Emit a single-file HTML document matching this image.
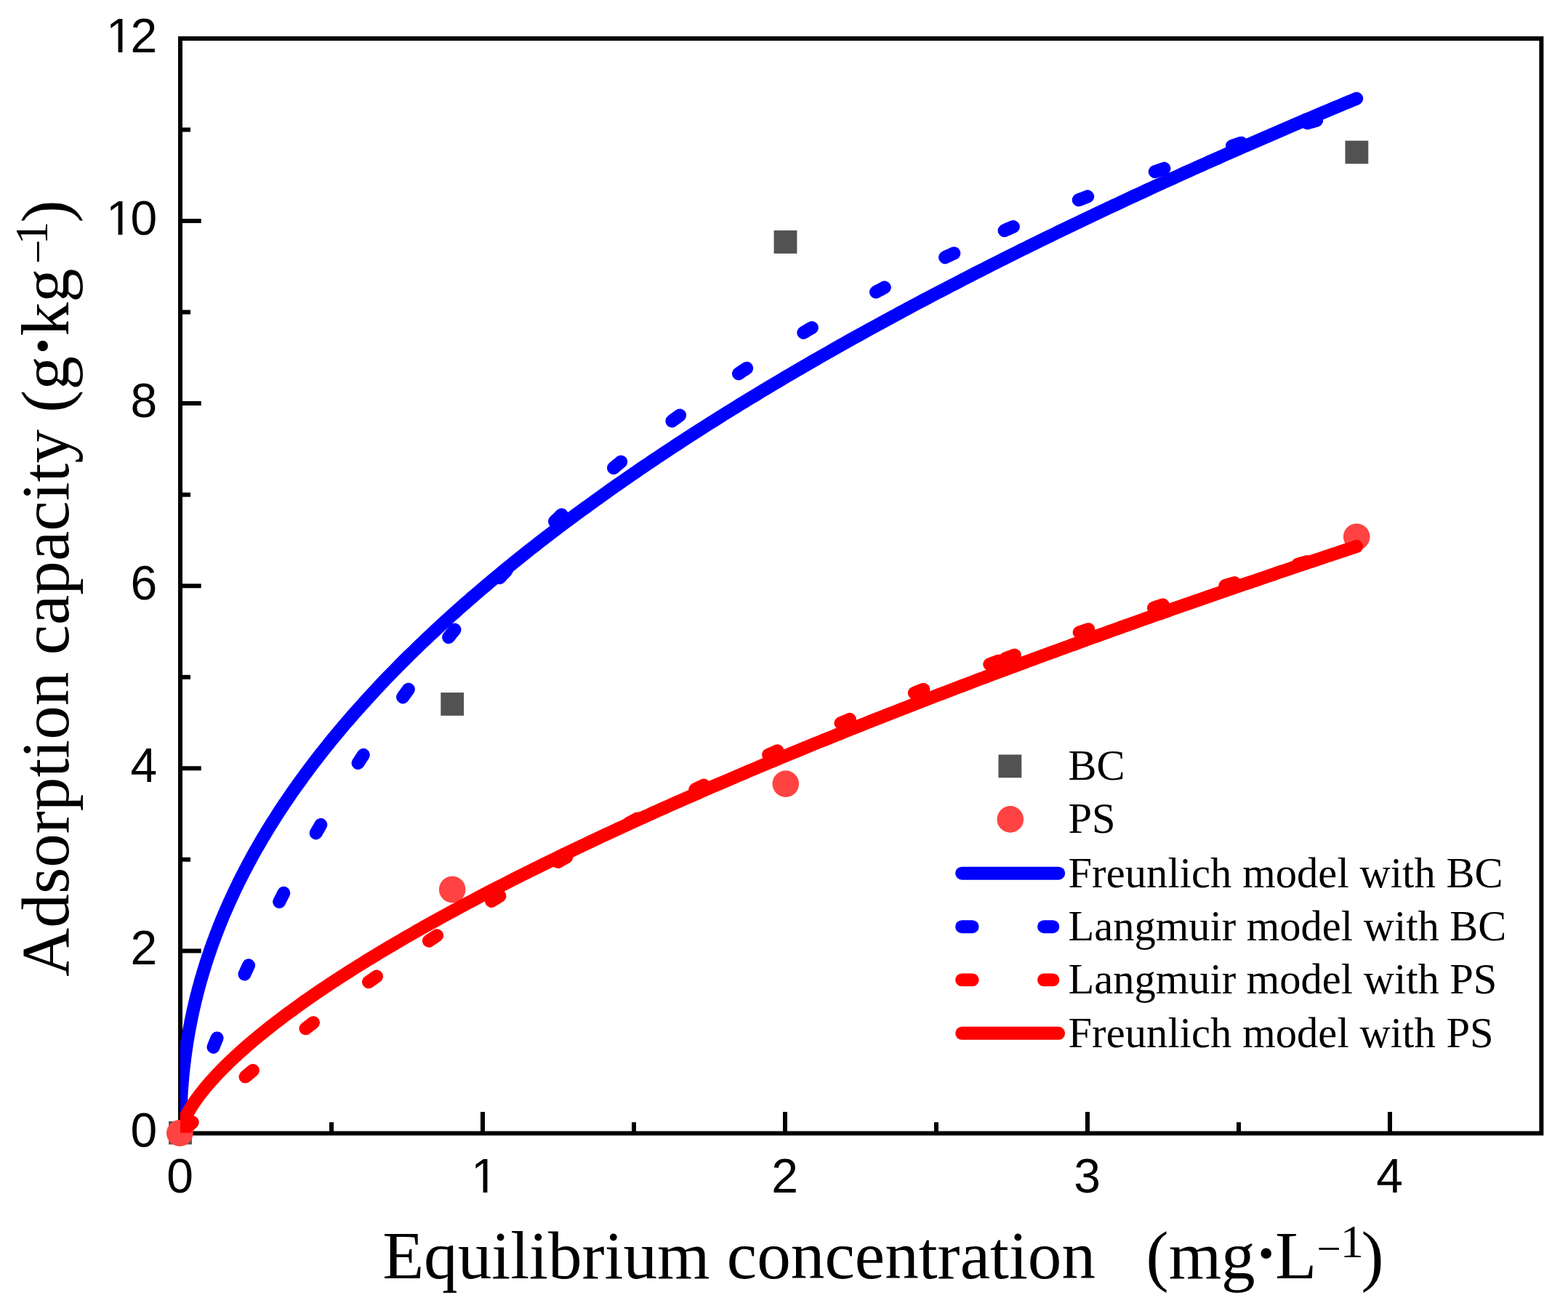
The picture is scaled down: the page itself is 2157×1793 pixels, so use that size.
<!DOCTYPE html>
<html lang="en"><head><meta charset="utf-8"><title>Adsorption isotherm</title>
<style>html,body{margin:0;padding:0;background:#fff;}svg{display:block}.tk{font-family:'Liberation Sans',sans-serif;font-size:66px;fill:#000}.ti{font-family:'Liberation Serif',serif;font-size:93.2px;fill:#000}.lg{font-family:'Liberation Serif',serif;font-size:58.5px;fill:#000}</style></head><body>
<svg width="2157" height="1793" viewBox="0 0 2157 1793">
<rect x="0" y="0" width="2157" height="1793" fill="#fff"/>
<defs><clipPath id="plot"><rect x="248" y="0" width="1900" height="1559"/></clipPath></defs>
<rect x="248.0" y="53.0" width="1872.40" height="1506.50" fill="none" stroke="#000" stroke-width="6.0"/>
<path d="M456.00 1559.5v-15.3M664.00 1559.5v-29.6M872.00 1559.5v-15.3M1080.00 1559.5v-29.6M1288.00 1559.5v-15.3M1496.00 1559.5v-29.6M1704.00 1559.5v-15.3M1912.00 1559.5v-29.6M248.0 1433.95h14.0M248.0 1308.40h28.7M248.0 1182.85h14.0M248.0 1057.30h28.7M248.0 931.75h14.0M248.0 806.20h28.7M248.0 680.65h14.0M248.0 555.10h28.7M248.0 429.55h14.0M248.0 304.00h28.7M248.0 178.45h14.0" fill="none" stroke="#000" stroke-width="6.0"/>
<text class="tk" x="247.70" y="1641" text-anchor="middle">0</text>
<text class="tk" x="648" y="1641">1</text>
<text class="tk" x="1079.70" y="1641" text-anchor="middle">2</text>
<text class="tk" x="1495.70" y="1641" text-anchor="middle">3</text>
<text class="tk" x="1911.70" y="1641" text-anchor="middle">4</text>
<text class="tk" x="216.2" y="1578" text-anchor="end">0</text>
<text class="tk" x="216.2" y="1327" text-anchor="end">2</text>
<text class="tk" x="216.2" y="1076" text-anchor="end">4</text>
<text class="tk" x="216.2" y="825" text-anchor="end">6</text>
<text class="tk" x="216.2" y="574" text-anchor="end">8</text>
<text class="tk" y="323"><tspan x="146">1</tspan><tspan x="216.2" text-anchor="end">0</tspan></text>
<text class="tk" y="72"><tspan x="146">1</tspan><tspan x="216.2" text-anchor="end">2</tspan></text>
<path d="M651 1636H664.6v7H651zM670.43 1636H684v7H670.43zM149 318H162.6v7H149zM168.43 318H182v7H168.43zM149 67H162.6v7H149zM168.43 67H182v7H168.43z" fill="#fff"/>
<text class="ti" xml:space="preserve" x="526.20" y="1759.3">Equilibrium concentration <tspan x="1576.60">(mg</tspan><tspan x="1721.20" dy="5.70" font-size="123px">·</tspan><tspan x="1754.20" dy="-5.70">L</tspan><tspan x="1811.60" dy="-21.00" font-size="59px">−</tspan><tspan x="1843.70" dy="-8.00" font-size="64.2px">1</tspan><tspan x="1872.40" dy="29.0">)</tspan></text>
<g transform="translate(93.6,1343.0) rotate(-90)"><text class="ti" xml:space="preserve" x="-1.00" y="0">Adsorption capacity (g<tspan x="846.50" dy="5.70" font-size="123px">·</tspan><tspan x="880.50" dy="-5.70">kg</tspan><tspan x="980.00" dy="-21.80" font-size="59px">−</tspan><tspan x="1006.20" dy="-6.70" font-size="64.2px">1</tspan><tspan x="1036.50" dy="28.5">)</tspan></text></g>
<rect x="232.10" y="1543.00" width="31.8" height="31.8" fill="#525252"/>
<rect x="606.30" y="953.00" width="31.8" height="31.8" fill="#525252"/>
<rect x="1064.60" y="317.10" width="31.8" height="31.8" fill="#525252"/>
<rect x="1850.50" y="193.60" width="31.8" height="31.8" fill="#525252"/>
<circle cx="247.30" cy="1559.20" r="18.3" fill="#ff4343"/>
<circle cx="622.20" cy="1224.00" r="18.3" fill="#ff4343"/>
<circle cx="1080.80" cy="1078.60" r="18.3" fill="#ff4343"/>
<circle cx="1866.20" cy="738.70" r="18.3" fill="#ff4343"/>
<g clip-path="url(#plot)" fill="none" stroke-linecap="round" stroke-linejoin="round" stroke-width="18.0">
<path d="M248.0 1559.5L248.0 1555.7L248.0 1552.2L248.1 1548.9L248.1 1545.5L248.1 1542.3L248.2 1539.0L248.3 1535.8L248.4 1532.6L248.5 1529.5L248.6 1526.3L248.7 1523.2L248.8 1520.1L249.0 1517.0L249.1 1513.9L249.3 1510.9L249.4 1507.8L249.6 1504.8L249.8 1501.7L250.0 1498.7L250.2 1495.7L250.5 1492.7L250.7 1489.7L251.0 1486.7L251.2 1483.7L251.5 1480.7L251.8 1477.7L252.1 1474.8L252.4 1471.8L252.7 1468.9L253.1 1465.9L253.4 1463.0L253.8 1460.0L254.1 1457.1L254.5 1454.2L254.9 1451.3L255.3 1448.3L255.7 1445.4L256.1 1442.5L256.6 1439.6L257.0 1436.7L257.4 1433.8L257.9 1430.9L258.4 1428.1L258.9 1425.2L259.4 1422.3L259.9 1419.4L260.4 1416.5L261.0 1413.7L261.5 1410.8L262.1 1407.9L262.6 1405.1L263.2 1402.2L263.8 1399.4L264.4 1396.5L265.0 1393.7L265.6 1390.8L266.3 1388.0L266.9 1385.1L267.6 1382.3L268.2 1379.5L268.9 1376.6L269.6 1373.8L270.3 1371.0L271.0 1368.2L271.8 1365.3L272.5 1362.5L273.2 1359.7L274.0 1356.9L274.8 1354.1L275.5 1351.3L276.3 1348.5L277.1 1345.7L278.0 1342.9L278.8 1340.1L279.6 1337.3L280.5 1334.5L281.3 1331.7L282.2 1328.9L283.1 1326.1L284.0 1323.3L284.9 1320.5L285.8 1317.7L286.7 1314.9L287.7 1312.2L288.6 1309.4L289.6 1306.6L290.5 1303.8L291.5 1301.1L292.5 1298.3L293.5 1295.5L294.6 1292.8L295.6 1290.0L296.6 1287.2L297.7 1284.5L298.7 1281.7L299.8 1278.9L300.9 1276.2L302.0 1273.4L303.1 1270.7L304.2 1267.9L305.3 1265.2L306.5 1262.4L307.6 1259.7L308.8 1256.9L310.0 1254.2L311.2 1251.4L312.4 1248.7L313.6 1245.9L314.8 1243.2L316.0 1240.5L317.3 1237.7L318.5 1235.0L319.8 1232.3L321.1 1229.5L322.3 1226.8L323.6 1224.1L325.0 1221.3L326.3 1218.6L327.6 1215.9L328.9 1213.2L330.3 1210.4L331.7 1207.7L333.0 1205.0L334.4 1202.3L335.8 1199.5L337.2 1196.8L338.7 1194.1L340.1 1191.4L341.5 1188.7L343.0 1186.0L344.5 1183.3L345.9 1180.6L347.4 1177.8L348.9 1175.1L350.4 1172.4L352.0 1169.7L353.5 1167.0L355.1 1164.3L356.6 1161.6L358.2 1158.9L359.8 1156.2L361.3 1153.5L363.0 1150.8L364.6 1148.1L366.2 1145.4L367.8 1142.7L369.5 1140.0L371.1 1137.3L372.8 1134.6L378.6 1125.5L384.3 1116.5L390.1 1107.8L395.9 1099.2L401.6 1090.8L407.4 1082.6L413.2 1074.6L418.9 1066.6L424.7 1058.9L430.5 1051.2L436.2 1043.7L442.0 1036.3L447.8 1029.0L453.5 1021.8L459.3 1014.8L465.1 1007.8L470.8 1000.9L476.6 994.2L482.4 987.5L488.1 980.9L493.9 974.4L499.7 967.9L505.4 961.6L511.2 955.3L517.0 949.1L522.7 942.9L528.5 936.8L534.3 930.8L540.0 924.9L545.8 919.0L551.6 913.2L557.3 907.4L563.1 901.7L568.9 896.1L574.6 890.5L580.4 884.9L586.1 879.4L591.9 874.0L597.7 868.6L603.4 863.2L609.2 857.9L615.0 852.6L620.7 847.4L626.5 842.2L632.3 837.1L638.0 832.0L643.8 826.9L649.6 821.9L655.3 816.9L661.1 812.0L666.9 807.1L672.6 802.2L678.4 797.4L684.2 792.6L689.9 787.8L695.7 783.1L701.5 778.4L707.2 773.7L713.0 769.1L718.8 764.4L724.5 759.9L730.3 755.3L736.1 750.8L741.8 746.3L747.6 741.8L753.4 737.4L759.1 733.0L764.9 728.6L770.7 724.2L776.4 719.9L782.2 715.6L788.0 711.3L793.7 707.0L799.5 702.8L805.3 698.6L811.0 694.4L816.8 690.2L822.6 686.1L828.3 681.9L834.1 677.8L839.9 673.7L845.6 669.7L851.4 665.6L857.2 661.6L862.9 657.6L868.7 653.6L874.5 649.7L880.2 645.7L886.0 641.8L891.8 637.9L897.5 634.0L903.3 630.1L909.1 626.3L914.8 622.5L920.6 618.6L926.4 614.8L932.1 611.1L937.9 607.3L943.7 603.5L949.4 599.8L955.2 596.1L961.0 592.4L966.7 588.7L972.5 585.0L978.2 581.4L984.0 577.8L989.8 574.1L995.5 570.5L1001.3 566.9L1007.1 563.4L1012.8 559.8L1018.6 556.2L1024.4 552.7L1030.1 549.2L1035.9 545.7L1041.7 542.2L1047.4 538.7L1053.2 535.2L1059.0 531.8L1064.7 528.3L1070.5 524.9L1076.3 521.5L1082.0 518.1L1087.8 514.7L1093.6 511.3L1099.3 507.9L1105.1 504.6L1110.9 501.2L1116.6 497.9L1122.4 494.6L1128.2 491.3L1133.9 488.0L1139.7 484.7L1145.5 481.4L1151.2 478.2L1157.0 474.9L1162.8 471.7L1168.5 468.4L1174.3 465.2L1180.1 462.0L1185.8 458.8L1191.6 455.6L1197.4 452.4L1203.1 449.3L1208.9 446.1L1214.7 443.0L1220.4 439.8L1226.2 436.7L1232.0 433.6L1237.7 430.5L1243.5 427.4L1249.3 424.3L1255.0 421.2L1260.8 418.1L1266.6 415.1L1272.3 412.0L1278.1 409.0L1283.9 405.9L1289.6 402.9L1295.4 399.9L1301.2 396.9L1306.9 393.9L1312.7 390.9L1318.5 387.9L1324.2 384.9L1330.0 382.0L1335.8 379.0L1341.5 376.0L1347.3 373.1L1353.1 370.2L1358.8 367.2L1364.6 364.3L1370.3 361.4L1376.1 358.5L1381.9 355.6L1387.6 352.7L1393.4 349.9L1399.2 347.0L1404.9 344.1L1410.7 341.3L1416.5 338.4L1422.2 335.6L1428.0 332.7L1433.8 329.9L1439.5 327.1L1445.3 324.3L1451.1 321.5L1456.8 318.7L1462.6 315.9L1468.4 313.1L1474.1 310.3L1479.9 307.6L1485.7 304.8L1491.4 302.1L1497.2 299.3L1503.0 296.6L1508.7 293.8L1514.5 291.1L1520.3 288.4L1526.0 285.7L1531.8 283.0L1537.6 280.3L1543.3 277.6L1549.1 274.9L1554.9 272.2L1560.6 269.5L1566.4 266.8L1572.2 264.2L1577.9 261.5L1583.7 258.9L1589.5 256.2L1595.2 253.6L1601.0 250.9L1606.8 248.3L1612.5 245.7L1618.3 243.1L1624.1 240.4L1629.8 237.8L1635.6 235.2L1641.4 232.6L1647.1 230.1L1652.9 227.5L1658.7 224.9L1664.4 222.3L1670.2 219.8L1676.0 217.2L1681.7 214.6L1687.5 212.1L1693.3 209.5L1699.0 207.0L1704.8 204.5L1710.6 201.9L1716.3 199.4L1722.1 196.9L1727.9 194.4L1733.6 191.9L1739.4 189.4L1745.2 186.9L1750.9 184.4L1756.7 181.9L1762.4 179.4L1768.2 176.9L1774.0 174.5L1779.7 172.0L1785.5 169.5L1791.3 167.1L1797.0 164.6L1802.8 162.2L1808.6 159.7L1814.3 157.3L1820.1 154.9L1825.9 152.4L1831.6 150.0L1837.4 147.6L1843.2 145.2L1848.9 142.8L1854.7 140.4L1860.5 138.0L1866.2 135.6" stroke="#0000ff"/>
<path d="M253.7 1543.9L254.8 1540.7L256.0 1537.6L257.2 1534.4L258.3 1531.3M293.5 1440.9L294.7 1437.8L296.0 1434.7L297.3 1431.6L298.5 1428.5M336.5 1340.5L337.9 1337.4L339.3 1334.4L340.7 1331.3L342.1 1328.3M384.2 1240.9L385.7 1237.9L387.2 1234.9L388.7 1231.9L390.2 1228.9M434.7 1146.4L436.3 1143.5L438.0 1140.6L439.7 1137.7L441.3 1134.8M492.6 1050.1L494.4 1047.2L496.2 1044.4L498.0 1041.6L499.8 1038.8M554.1 959.4L556.0 956.6L558.0 953.9L560.0 951.2L561.9 948.5M617.1 876.9L619.2 874.3L621.3 871.7L623.4 869.1L625.5 866.5M687.7 794.9L689.9 792.4L692.2 789.9L694.5 787.5L696.8 785.0M763.0 717.5L765.4 715.2L767.8 712.9L770.2 710.6L772.6 708.3M844.0 644.0L846.5 641.9L849.1 639.7L851.7 637.5L854.2 635.4M924.4 579.4L927.0 577.4L929.7 575.4L932.4 573.4L935.1 571.4M1016.0 514.2L1018.8 512.3L1021.6 510.4L1024.4 508.6L1027.2 506.7M1105.3 457.7L1108.2 456.0L1111.1 454.3L1114.0 452.6L1116.9 450.9M1205.0 401.8L1207.9 400.2L1210.9 398.7L1213.9 397.1L1216.8 395.6M1300.1 354.2L1303.2 352.7L1306.2 351.3L1309.2 349.9L1312.3 348.5M1381.6 317.3L1384.6 315.9L1387.7 314.6L1390.8 313.3L1393.9 312.0M1483.8 275.2L1486.9 274.0L1490.0 272.8L1493.1 271.6L1496.2 270.4M1588.8 236.3L1591.9 235.2L1595.1 234.1L1598.3 233.0L1601.4 231.9M1695.0 200.8L1698.2 199.8L1701.4 198.7L1704.6 197.7L1707.8 196.7M1798.4 169.4L1801.6 168.4L1804.8 167.5L1808.0 166.6L1811.2 165.6" stroke="#0000ff"/>
<path d="M254.8 1553.3L257.3 1551.1L259.8 1548.8L262.3 1546.6L264.8 1544.3M337.5 1481.6L340.1 1479.4L342.7 1477.3L345.3 1475.1L347.9 1473.0M420.4 1415.3L423.0 1413.3L425.7 1411.2L428.4 1409.2L431.0 1407.2M507.0 1351.3L509.8 1349.4L512.5 1347.5L515.2 1345.5L518.0 1343.6M589.9 1294.7L592.7 1292.8L595.5 1291.0L598.3 1289.1L601.1 1287.3M676.0 1240.0L678.8 1238.2L681.7 1236.5L684.6 1234.7L687.4 1233.0M767.7 1185.9L770.6 1184.2L773.5 1182.6L776.4 1180.9L779.3 1179.3M865.0 1132.7L867.9 1131.2L870.9 1129.6L873.9 1128.1L876.8 1126.5M956.3 1086.4L959.3 1084.9L962.3 1083.4L965.3 1082.0L968.3 1080.5M1057.2 1038.7L1060.2 1037.3L1063.3 1036.0L1066.4 1034.6L1069.4 1033.2M1156.5 995.1L1159.6 993.8L1162.7 992.5L1165.8 991.2L1168.9 989.9M1257.9 953.6L1261.0 952.4L1264.1 951.2L1267.2 949.9L1270.3 948.7M1361.3 914.1L1364.5 912.9L1367.6 911.8L1370.7 910.6L1373.9 909.5M1383.2 906.1L1386.4 904.9L1389.5 903.8L1392.6 902.6L1395.8 901.5M1484.7 870.3L1487.8 869.2L1491.0 868.1L1494.2 867.1L1497.3 866.0M1587.0 836.5L1590.2 835.4L1593.4 834.4L1596.6 833.4L1599.8 832.4M1685.4 805.9L1688.6 804.9L1691.8 803.9L1695.0 803.0L1698.2 802.0M1785.3 776.6L1788.5 775.7L1791.7 774.7L1794.9 773.8L1798.1 772.9" stroke="#ff0000"/>
<path d="M248.0 1559.5L248.0 1559.3L248.0 1559.0L248.1 1558.7L248.1 1558.3L248.1 1557.9L248.2 1557.4L248.3 1557.0L248.4 1556.5L248.5 1556.0L248.6 1555.4L248.7 1554.9L248.8 1554.3L249.0 1553.7L249.1 1553.1L249.3 1552.5L249.4 1551.9L249.6 1551.3L249.8 1550.6L250.0 1549.9L250.2 1549.3L250.5 1548.6L250.7 1547.9L251.0 1547.2L251.2 1546.5L251.5 1545.7L251.8 1545.0L252.1 1544.3L252.4 1543.5L252.7 1542.7L253.1 1542.0L253.4 1541.2L253.8 1540.4L254.1 1539.6L254.5 1538.8L254.9 1538.0L255.3 1537.2L255.7 1536.3L256.1 1535.5L256.6 1534.7L257.0 1533.8L257.4 1532.9L257.9 1532.1L258.4 1531.2L258.9 1530.3L259.4 1529.5L259.9 1528.6L260.4 1527.7L261.0 1526.8L261.5 1525.9L262.1 1524.9L262.6 1524.0L263.2 1523.1L263.8 1522.2L264.4 1521.2L265.0 1520.3L265.6 1519.3L266.3 1518.4L266.9 1517.4L267.6 1516.4L268.2 1515.5L268.9 1514.5L269.6 1513.5L270.3 1512.5L271.0 1511.5L271.8 1510.5L272.5 1509.5L273.2 1508.5L274.0 1507.5L274.8 1506.5L275.5 1505.5L276.3 1504.4L277.1 1503.4L278.0 1502.4L278.8 1501.3L279.6 1500.3L280.5 1499.2L281.3 1498.2L282.2 1497.1L283.1 1496.1L284.0 1495.0L284.9 1493.9L285.8 1492.8L286.7 1491.8L287.7 1490.7L288.6 1489.6L289.6 1488.5L290.5 1487.4L291.5 1486.3L292.5 1485.2L293.5 1484.1L294.6 1483.0L295.6 1481.8L296.6 1480.7L297.7 1479.6L298.7 1478.5L299.8 1477.3L300.9 1476.2L302.0 1475.0L303.1 1473.9L304.2 1472.7L305.3 1471.6L306.5 1470.4L307.6 1469.3L308.8 1468.1L310.0 1466.9L311.2 1465.8L312.4 1464.6L313.6 1463.4L314.8 1462.2L316.0 1461.0L317.3 1459.8L318.5 1458.6L319.8 1457.5L321.1 1456.3L322.3 1455.0L323.6 1453.8L325.0 1452.6L326.3 1451.4L327.6 1450.2L328.9 1449.0L330.3 1447.7L331.7 1446.5L333.0 1445.3L334.4 1444.1L335.8 1442.8L337.2 1441.6L338.7 1440.3L340.1 1439.1L341.5 1437.8L343.0 1436.6L344.5 1435.3L345.9 1434.1L347.4 1432.8L348.9 1431.5L350.4 1430.3L352.0 1429.0L353.5 1427.7L355.1 1426.4L356.6 1425.1L358.2 1423.9L359.8 1422.6L361.3 1421.3L363.0 1420.0L364.6 1418.7L366.2 1417.4L367.8 1416.1L369.5 1414.8L371.1 1413.5L372.8 1412.2L378.6 1407.7L384.3 1403.3L390.1 1398.9L395.9 1394.6L401.6 1390.4L407.4 1386.2L413.2 1382.0L418.9 1377.9L424.7 1373.9L430.5 1369.9L436.2 1365.9L442.0 1362.0L447.8 1358.1L453.5 1354.3L459.3 1350.5L465.1 1346.7L470.8 1343.0L476.6 1339.3L482.4 1335.6L488.1 1332.0L493.9 1328.4L499.7 1324.8L505.4 1321.2L511.2 1317.7L517.0 1314.2L522.7 1310.7L528.5 1307.3L534.3 1303.8L540.0 1300.4L545.8 1297.0L551.6 1293.7L557.3 1290.3L563.1 1287.0L568.9 1283.7L574.6 1280.4L580.4 1277.2L586.1 1273.9L591.9 1270.7L597.7 1267.5L603.4 1264.3L609.2 1261.1L615.0 1258.0L620.7 1254.8L626.5 1251.7L632.3 1248.6L638.0 1245.5L643.8 1242.4L649.6 1239.4L655.3 1236.3L661.1 1233.3L666.9 1230.3L672.6 1227.3L678.4 1224.3L684.2 1221.3L689.9 1218.4L695.7 1215.4L701.5 1212.5L707.2 1209.5L713.0 1206.6L718.8 1203.7L724.5 1200.9L730.3 1198.0L736.1 1195.1L741.8 1192.3L747.6 1189.4L753.4 1186.6L759.1 1183.8L764.9 1181.0L770.7 1178.2L776.4 1175.4L782.2 1172.6L788.0 1169.8L793.7 1167.1L799.5 1164.3L805.3 1161.6L811.0 1158.8L816.8 1156.1L822.6 1153.4L828.3 1150.7L834.1 1148.0L839.9 1145.3L845.6 1142.7L851.4 1140.0L857.2 1137.3L862.9 1134.7L868.7 1132.1L874.5 1129.4L880.2 1126.8L886.0 1124.2L891.8 1121.6L897.5 1119.0L903.3 1116.4L909.1 1113.8L914.8 1111.2L920.6 1108.6L926.4 1106.1L932.1 1103.5L937.9 1101.0L943.7 1098.4L949.4 1095.9L955.2 1093.4L961.0 1090.9L966.7 1088.3L972.5 1085.8L978.2 1083.3L984.0 1080.8L989.8 1078.4L995.5 1075.9L1001.3 1073.4L1007.1 1070.9L1012.8 1068.5L1018.6 1066.0L1024.4 1063.6L1030.1 1061.1L1035.9 1058.7L1041.7 1056.3L1047.4 1053.8L1053.2 1051.4L1059.0 1049.0L1064.7 1046.6L1070.5 1044.2L1076.3 1041.8L1082.0 1039.4L1087.8 1037.0L1093.6 1034.6L1099.3 1032.3L1105.1 1029.9L1110.9 1027.5L1116.6 1025.2L1122.4 1022.8L1128.2 1020.5L1133.9 1018.1L1139.7 1015.8L1145.5 1013.5L1151.2 1011.1L1157.0 1008.8L1162.8 1006.5L1168.5 1004.2L1174.3 1001.9L1180.1 999.6L1185.8 997.3L1191.6 995.0L1197.4 992.7L1203.1 990.4L1208.9 988.1L1214.7 985.9L1220.4 983.6L1226.2 981.3L1232.0 979.1L1237.7 976.8L1243.5 974.6L1249.3 972.3L1255.0 970.1L1260.8 967.8L1266.6 965.6L1272.3 963.4L1278.1 961.1L1283.9 958.9L1289.6 956.7L1295.4 954.5L1301.2 952.3L1306.9 950.1L1312.7 947.9L1318.5 945.7L1324.2 943.5L1330.0 941.3L1335.8 939.1L1341.5 936.9L1347.3 934.7L1353.1 932.6L1358.8 930.4L1364.6 928.2L1370.3 926.1L1376.1 923.9L1381.9 921.8L1387.6 919.6L1393.4 917.5L1399.2 915.3L1404.9 913.2L1410.7 911.0L1416.5 908.9L1422.2 906.8L1428.0 904.6L1433.8 902.5L1439.5 900.4L1445.3 898.3L1451.1 896.2L1456.8 894.1L1462.6 892.0L1468.4 889.9L1474.1 887.8L1479.9 885.7L1485.7 883.6L1491.4 881.5L1497.2 879.4L1503.0 877.3L1508.7 875.2L1514.5 873.2L1520.3 871.1L1526.0 869.0L1531.8 866.9L1537.6 864.9L1543.3 862.8L1549.1 860.8L1554.9 858.7L1560.6 856.7L1566.4 854.6L1572.2 852.6L1577.9 850.5L1583.7 848.5L1589.5 846.4L1595.2 844.4L1601.0 842.4L1606.8 840.4L1612.5 838.3L1618.3 836.3L1624.1 834.3L1629.8 832.3L1635.6 830.3L1641.4 828.2L1647.1 826.2L1652.9 824.2L1658.7 822.2L1664.4 820.2L1670.2 818.2L1676.0 816.2L1681.7 814.2L1687.5 812.3L1693.3 810.3L1699.0 808.3L1704.8 806.3L1710.6 804.3L1716.3 802.4L1722.1 800.4L1727.9 798.4L1733.6 796.4L1739.4 794.5L1745.2 792.5L1750.9 790.6L1756.7 788.6L1762.4 786.6L1768.2 784.7L1774.0 782.7L1779.7 780.8L1785.5 778.8L1791.3 776.9L1797.0 775.0L1802.8 773.0L1808.6 771.1L1814.3 769.2L1820.1 767.2L1825.9 765.3L1831.6 763.4L1837.4 761.5L1843.2 759.5L1848.9 757.6L1854.7 755.7L1860.5 753.8L1866.2 751.9" stroke="#ff0000"/>
</g>
<rect x="1373.50" y="1038.40" width="31.8" height="31.8" fill="#525252"/>
<circle cx="1389.8" cy="1127.4" r="18.3" fill="#ff4343"/>
<g fill="none" stroke-linecap="round" stroke-width="17.9">
<path d="M1323.15 1201.7H1456.25" stroke="#0000ff"/>
<path d="M1323.15 1275.2H1337.65M1436.05 1275.2H1448.35" stroke="#0000ff"/>
<path d="M1323.15 1348.4H1337.65M1436.05 1348.4H1448.35" stroke="#ff0000"/>
<path d="M1323.15 1421.8H1456.25" stroke="#ff0000"/>
</g>
<text class="lg" x="1469.5" y="1073">BC</text>
<text class="lg" x="1469.5" y="1146">PS</text>
<text class="lg" x="1469.5" y="1221" letter-spacing="0.08">Freunlich model with BC</text>
<text class="lg" x="1469.5" y="1294">Langmuir model with BC</text>
<text class="lg" x="1469.5" y="1367">Langmuir model with PS</text>
<text class="lg" x="1469.5" y="1441" letter-spacing="0.08">Freunlich model with PS</text>
</svg></body></html>
